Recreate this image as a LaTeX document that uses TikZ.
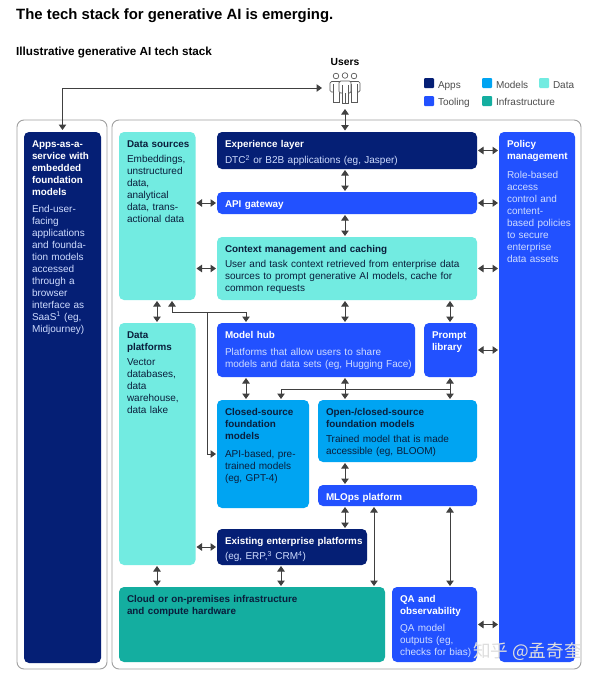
\documentclass[tikz,border=0pt]{standalone}
\usepackage{fontspec}
\setmainfont{Liberation Sans}
\newfontfamily\cjkwm{Noto Sans CJK SC}
\usetikzlibrary{arrows.meta,calc}
\definecolor{appsc}{HTML}{051F75}
\definecolor{toolc}{HTML}{2251FF}
\definecolor{modc}{HTML}{00A4F2}
\definecolor{datac}{HTML}{72EBE1}
\definecolor{infrac}{HTML}{14AEA0}
\definecolor{inkc}{HTML}{0A1E3C}
\definecolor{softc}{HTML}{CFDCFF}
\definecolor{linec}{HTML}{404040}
\definecolor{framec}{HTML}{A0A0A0}
\tikzset{
  panel/.style={draw=none,rounded corners=5pt,inner sep=0pt,outer sep=0pt},
  frame/.style={draw=framec,line width=0.9pt,rounded corners=7pt,inner sep=0pt,outer sep=0pt},
  txt/.style={inner sep=0pt,outer sep=0pt,anchor=north west,align=left,font=\fontsize{10}{12}\selectfont},
  conn/.style={draw=linec,line width=1pt,{Triangle[length=5.5pt,width=7.5pt]}-{Triangle[length=5.5pt,width=7.5pt]},shorten <=1pt,shorten >=1pt},
  conn1/.style={draw=linec,line width=1pt,-{Triangle[length=5.5pt,width=7.5pt]},shorten >=1pt},
  legtxt/.style={inner sep=0pt,outer sep=0pt,anchor=base west,text=black!70,font=\fontsize{10}{12}\selectfont},
  legkey/.style={rounded corners=1pt,minimum size=10pt,inner sep=0pt,outer sep=0pt,anchor=north west},
  person/.style={draw=black!65,line width=0.7pt,fill=white},
}
% name, x1,y1,x2,y2, fill, text colour, text
\newcommand{\panelbox}[8]{%
  \pgfmathsetmacro{\pw}{#4-#2}\pgfmathsetmacro{\ph}{#5-#3}\pgfmathsetmacro{\tw}{#4-#2-8}%
  \node[panel,fill=#6,minimum width=\pw pt,minimum height=\ph pt,anchor=north west] (#1) at (#2,#3) {};
  \node[txt,text=#7,text width=\tw pt] (#1-t) at (#2+8,#3+7.4) {\strut #8};
}
\newcommand{\hd}[1]{{\fontsize{9.85}{12}\selectfont\bfseries #1}}
\begin{document}
\begin{tikzpicture}[x=1pt,y=-1pt]
\useasboundingbox[fill=white] (0,0) rectangle (600,678);
\node[inner sep=0pt,anchor=base west,font=\bfseries\fontsize{14.9}{17}\selectfont,text=black] (title) at (16,19) {The tech stack for generative AI is emerging.};
\node[inner sep=0pt,anchor=base west,font=\bfseries\fontsize{11.7}{14}\selectfont,text=black] (subtitle) at (16,55) {Illustrative generative AI tech stack};
% frames
\node[frame,minimum width=90pt,minimum height=549pt,anchor=north west] (left) at (17,120) {};
\node[frame,minimum width=469pt,minimum height=549pt,anchor=north west] (right) at (112,120) {};
% panels
\panelbox{apps}{24}{132}{101}{663}{appsc}{softc}{\textcolor{white}{\hd{Apps-as-a-\\service with\\embedded\\foundation\\models}}\\[4.5pt]End-user-\\facing\\applications\\and founda-\\tion models\\accessed\\through a\\browser\\interface as\\SaaS\textsuperscript{1} (eg,\\Midjourney)}
\panelbox{src}{119}{132}{195.5}{300}{datac}{inkc}{\hd{Data sources}\\[3pt]Embeddings,\\unstructured\\data,\\analytical\\data, trans-\\actional data}
\panelbox{plat}{119}{323}{195.5}{565}{datac}{inkc}{\hd{Data\\platforms}\\[3pt]Vector\\databases,\\data\\warehouse,\\data lake}
\panelbox{exp}{217}{132}{477}{169}{appsc}{softc}{\textcolor{white}{\hd{Experience layer}}\\[3pt]DTC\textsuperscript{2} or B2B applications (eg, Jasper)}
\panelbox{api}{217}{192}{477}{214}{toolc}{white}{\hd{API gateway}}
\panelbox{ctx}{217}{237}{477}{300}{datac}{inkc}{\hd{Context management and caching}\\[2.5pt]User and task context retrieved from enterprise data\\sources to prompt generative AI models, cache for\\common requests}
\panelbox{hub}{217}{323}{415}{377}{toolc}{softc}{\textcolor{white}{\hd{Model hub}}\\[5pt]Platforms that allow users to share\\models and data sets (eg, Hugging Face)}
\panelbox{prompt}{424}{323}{477}{377}{toolc}{white}{\hd{Prompt\\library}}
\panelbox{closed}{217}{400}{309}{508}{modc}{inkc}{\hd{Closed-source\\foundation\\models}\\[5.5pt]API-based, pre-\\trained models\\(eg, GPT-4)}
\panelbox{open}{318}{400}{477}{462}{modc}{inkc}{\hd{Open-/closed-source\\foundation models}\\[3pt]Trained model that is made\\accessible (eg, BLOOM)}
\panelbox{mlops}{318}{485}{477}{506}{toolc}{white}{\hd{MLOps platform}}
\panelbox{exist}{217}{529}{367}{565}{appsc}{softc}{\textcolor{white}{\hd{Existing enterprise platforms}}\\[2pt](eg, ERP,\textsuperscript{3} CRM\textsuperscript{4})}
\panelbox{cloud}{119}{587}{385}{662}{infrac}{inkc}{\hd{Cloud or on-premises infrastructure\\and compute hardware}}
\panelbox{qa}{392}{587}{477}{662}{toolc}{softc}{\textcolor{white}{\hd{QA and\\observability}}\\[4.5pt]QA model\\outputs (eg,\\checks for bias)}
\panelbox{policy}{499}{132}{575}{662}{toolc}{softc}{\textcolor{white}{\hd{Policy\\management}}\\[7pt]Role-based\\access\\control and\\content-\\based policies\\to secure\\enterprise\\data assets}
% legend
\node[legkey,fill=appsc] (kapps) at (424,78) {};
\node[legtxt] (lapps) at (438,88) {Apps};
\node[legkey,fill=modc] (kmod) at (482,78) {};
\node[legtxt] (lmod) at (496,88) {Models};
\node[legkey,fill=datac] (kdata) at (539,78) {};
\node[legtxt] (ldata) at (553,88) {Data};
\node[legkey,fill=toolc] (ktool) at (424,96) {};
\node[legtxt] (ltool) at (438,105.5) {Tooling};
\node[legkey,fill=infrac] (kinfra) at (482,96) {};
\node[legtxt] (linfra) at (496,105.5) {Infrastructure};
% users
\node[inner sep=0pt,anchor=base,font=\bfseries\fontsize{10.3}{12}\selectfont,text=black] (userslabel) at (345,65) {Users};
\node[minimum width=30pt,minimum height=32pt,inner sep=0pt,outer sep=0pt] (users) at (345,88) {};
\foreach \cx in {336,354}{
  \draw[person] (\cx,76) circle (2.8pt);
  \draw[person,rounded corners=1.5pt] (\cx-6,81.5) rectangle (\cx+6,92);
  \draw[person] (\cx-3,84) -- (\cx-3,102) -- (\cx+3,102) -- (\cx+3,84);
}
\draw[person] (345,75.5) circle (2.8pt);
\draw[person,rounded corners=1.5pt] (339,81) rectangle (351,93);
\draw[person] (342,85) -- (342,103) -- (348,103) -- (348,85);
\draw[person] (345,93) -- (345,103);
% column and row coordinates
\coordinate (xa) at (157,0);
\coordinate (xb) at (172,0);
\coordinate (xc) at (207,0);
\coordinate (xd) at (246,0);
\coordinate (xe) at (281,0);
\coordinate (xf) at (345,0);
\coordinate (xg) at (374,0);
\coordinate (xh) at (450,0);
\coordinate (xi) at (62.5,0);
\coordinate (ya) at (0,312);
\coordinate (yb) at (0,389);
\coordinate (yc) at (0,454);
% users links
\draw[conn,shorten <=8pt,shorten >=2pt] (users.west) -- (users.west -| xi) -- (apps.north);
\draw[conn,shorten <=5pt,shorten >=1.5pt] (users.south) -- (exp.north -| xf);
% vertical links
\draw[conn] (exp.south -| xf) -- (api.north -| xf);
\draw[conn] (api.south -| xf) -- (ctx.north -| xf);
\draw[conn] (ctx.south -| xf) -- (hub.north -| xf);
\draw[conn] (ctx.south -| xh) -- (prompt.north -| xh);
\draw[conn] (src.south -| xa) -- (plat.north -| xa);
\draw[conn] (hub.south -| xd) -- (closed.north -| xd);
\draw[conn] (hub.south -| xf) -- (open.north -| xf);
\draw[conn] (prompt.south -| xh) -- (open.north -| xh);
\draw[conn] (open.south -| xf) -- (mlops.north -| xf);
\draw[conn] (mlops.south -| xf) -- (exist.north -| xf);
\draw[conn] (mlops.south -| xg) -- (cloud.north -| xg);
\draw[conn] (mlops.south -| xh) -- (qa.north -| xh);
\draw[conn] (plat.south -| xa) -- (cloud.north -| xa);
\draw[conn] (exist.south -| xe) -- (cloud.north -| xe);
% horizontal links
\draw[conn] (exp.east) -- (exp.east -| policy.west);
\draw[conn] (api.east) -- (api.east -| policy.west);
\draw[conn] (ctx.east) -- (ctx.east -| policy.west);
\draw[conn] (prompt.east) -- (prompt.east -| policy.west);
\draw[conn] (qa.east) -- (qa.east -| policy.west);
\draw[conn] (api.west -| src.east) -- (api.west);
\draw[conn] (ctx.west -| src.east) -- (ctx.west);
\draw[conn] (exist.west -| plat.east) -- (exist.west);
% elbow links
\draw[conn] (src.south -| xb) -- (ya -| xb) -- (ya -| xd) -- (hub.north -| xd);
\draw[conn1] (ya -| xc) -- (yc -| xc) -- (yc -| closed.west);
\draw[conn1] (yb -| xh) -- (yb -| xe) -- (closed.north -| xe);
% watermark
\node[inner sep=0pt,anchor=west,text=black!13,font=\cjkwm\fontsize{17.6}{19}\selectfont] (wm) at (473,652) {知乎 @孟奇奎};
\end{tikzpicture}
\end{document}
